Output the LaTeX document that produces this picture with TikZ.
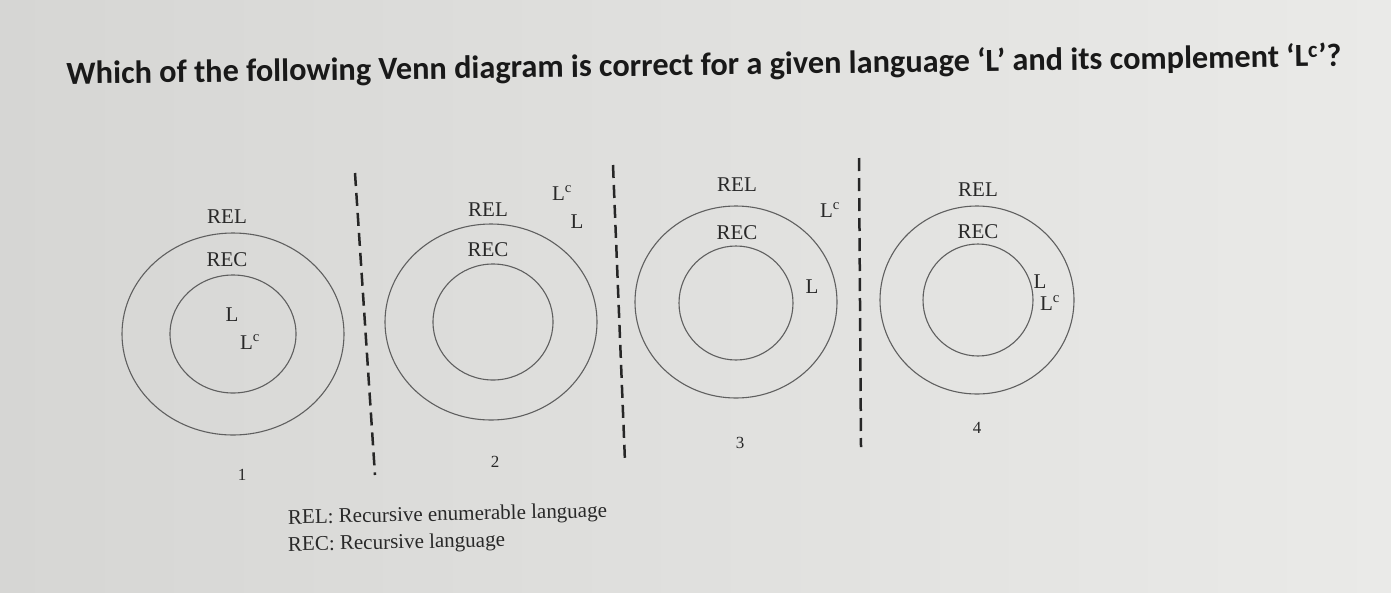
\documentclass[tikz,border=0pt]{standalone}
\usepackage{fontspec}
\setmainfont{Liberation Serif}
\newfontfamily\titlefont{Carlito}
\usetikzlibrary{shapes.geometric}
\definecolor{bgleft}{RGB}{214,214,212}
\definecolor{bgright}{RGB}{234,234,232}
\definecolor{ringgray}{RGB}{95,95,95}
\definecolor{textdark}{RGB}{40,40,40}
\begin{document}
\begin{tikzpicture}[x=1pt,y=-1pt,
  setring/.style={draw=ringgray, line width=1.1pt, ellipse, inner sep=0pt},
  lbl/.style={font=\fontsize{21}{21}\selectfont, text=textdark, inner sep=0pt},
  num/.style={font=\fontsize{17}{17}\selectfont, text=textdark, inner sep=0pt},
  legend/.style={font=\fontsize{21}{21}\selectfont, text=textdark, inner sep=0pt, anchor=base west, rotate=1.2},
  divider/.style={line width=2.5pt, dash pattern=on 13pt off 7pt, draw=black!85}]
\useasboundingbox (0,0) rectangle (1391,592);
\fill[left color=bgleft, right color=bgright] (0,0) rectangle (1391,592);

% title
\node[font=\titlefont\bfseries\fontsize{32.3}{32.3}\selectfont, text=black!90, rotate=0.8, inner sep=0pt] (title) at (704,66)
  {Which of the following Venn diagram is correct for a given language ‘L’ and its complement ‘L\textsuperscript{c}’?};

% diagram 1
\node[setring, minimum width=222pt, minimum height=202pt] (rel1) at (233,334) {};
\node[setring, minimum width=126pt, minimum height=118pt] (rec1) at (233,334) {};
\node[lbl] (rell1) at (227,217) {REL};
\node[lbl] (recl1) at (227,260) {REC};
\node[lbl] (l1) at (232,315) {L};
\node[lbl] (lc1) at (250,342) {L\textsuperscript{c}};
\node[num] (n1) at (242,475) {1};

% divider 1
\coordinate (d1t) at (355,173);
\coordinate (d1b) at (375,475);
\draw[divider] (d1t) -- (d1b);

% diagram 2
\node[setring, minimum width=212pt, minimum height=196pt] (rel2) at (491,322) {};
\node[setring, minimum width=120pt, minimum height=116pt] (rec2) at (493,322) {};
\node[lbl] (rell2) at (488,210) {REL};
\node[lbl] (recl2) at (488,250) {REC};
\node[lbl] (lc2) at (562,193) {L\textsuperscript{c}};
\node[lbl] (l2) at (577,222) {L};
\node[num] (n2) at (495,462) {2};

% divider 2
\coordinate (d2t) at (613,165);
\coordinate (d2b) at (625,462);
\draw[divider] (d2t) -- (d2b);

% diagram 3
\node[setring, minimum width=202pt, minimum height=192pt] (rel3) at (736,302) {};
\node[setring, minimum width=114pt, minimum height=114pt] (rec3) at (736,303) {};
\node[lbl] (rell3) at (737,185) {REL};
\node[lbl] (recl3) at (737,233) {REC};
\node[lbl] (lc3) at (830,210) {L\textsuperscript{c}};
\node[lbl] (l3) at (812,287) {L};
\node[num] (n3) at (740,443) {3};

% divider 3
\coordinate (d3t) at (859,158);
\coordinate (d3b) at (861,447);
\draw[divider] (d3t) -- (d3b);

% diagram 4
\node[setring, minimum width=194pt, minimum height=188pt] (rel4) at (977,300) {};
\node[setring, minimum width=110pt, minimum height=112pt] (rec4) at (978,300) {};
\node[lbl] (rell4) at (978,190) {REL};
\node[lbl] (recl4) at (978,232) {REC};
\node[lbl] (l4) at (1040,282) {L};
\node[lbl] (lc4) at (1050,303) {L\textsuperscript{c}};
\node[num] (n4) at (977,428) {4};

% legend
\node[legend] (leg1) at (288,524) {REL: Recursive enumerable language};
\node[legend] (leg2) at (288,551) {REC: Recursive language};
\end{tikzpicture}
\end{document}
